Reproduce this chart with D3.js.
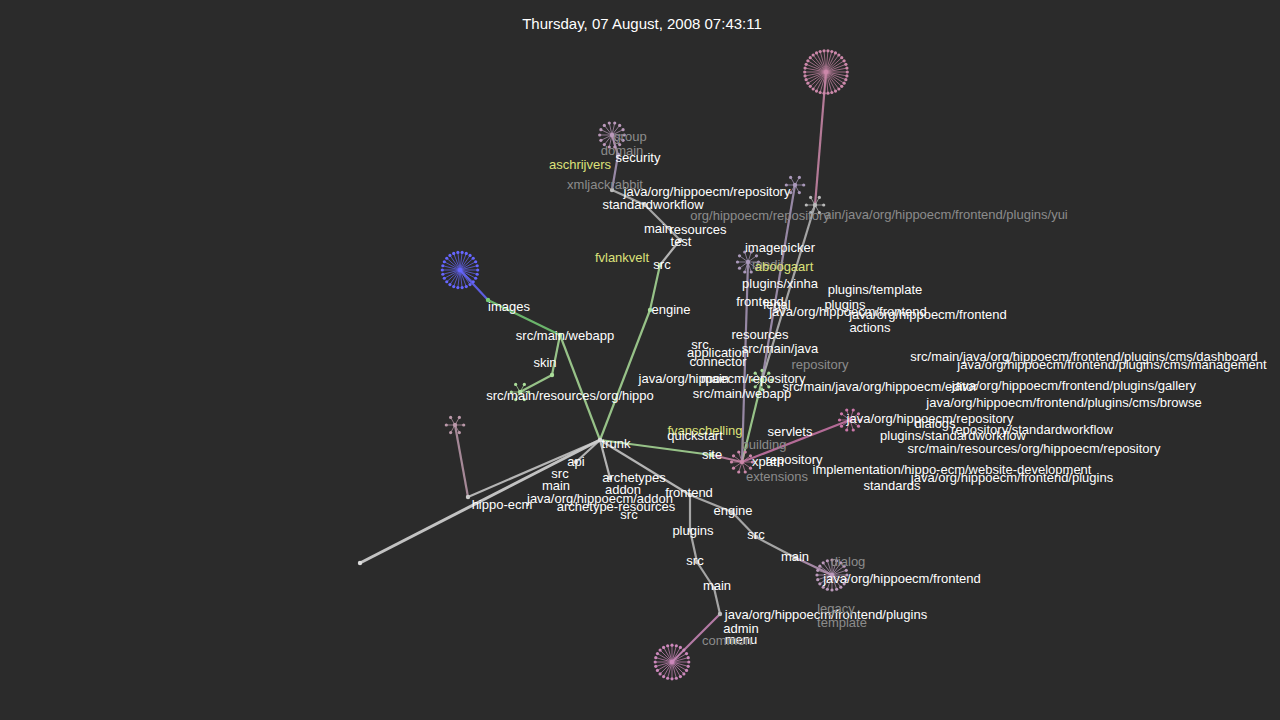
<!DOCTYPE html>
<html><head><meta charset="utf-8">
<script src="https://cdn.jsdelivr.net/npm/d3@7/dist/d3.min.js"></script>
<style>body{margin:0;background:#2b2b2b;overflow:hidden}svg{display:block}</style>
</head><body>
<script>
const title = "Thursday, 07 August, 2008 07:43:11";
const nodeIds   = ["root","tail","hippo","hippoUp","webapp","images","blue","engine","src1","test","sw","jrepo","security","grp","site","hub","hubR","up1","up2","top","front","plugins","src2","main2","jofp","menu","eng2","src3","main3","jof","skin","res","api","arch","imgp","yuiB"];
const nodeParent= [null,"root","root","hippo","root","webapp","images","root","engine","src1","test","sw","jrepo","security","root","site","hub","hub","up1","up2","root","front","plugins","src2","main2","jofp","front","eng2","src3","main3","webapp","skin","root","root","hub","up1"];
const nodeX = [600,360,468,455,560,488,460,650,660,680,645,612,618,612,712,742,850,762,815,826,690,690,697,714,720,672,732,756,796,832,552,520,576,610,748,795];
const nodeY = [440,563,497,425,335,300,270,310,265,240,205,190,155,135,455,462,420,380,205,72,495,530,562,588,614,662,512,537,558,575,375,392,462,478,262,185];
const nodeBurst=[0,0,0,6,0,0,26,0,0,0,0,0,0,14,0,10,10,8,6,34,0,0,0,0,0,24,0,0,0,20,0,6,0,0,10,6];
const nodeColor=["#ddd","#ddd","#ccc","#b9a","#ad9","#7c7","#66f","#ad9","#ad9","#ccc","#bbb","#bbb","#a9b","#b9b","#ad9","#c8a","#c7a","#ad9","#bbb","#c8a","#ccc","#bbb","#bbb","#bbb","#bbb","#c8b","#bbb","#bbb","#bbb","#b9b","#ad9","#ad9","#ccc","#ccc","#a9b","#a9b"];
const labelText=[
 "hippo-ecm","images","src/main/webapp","skin","src/main/resources/org/hippo","trunk","api","src","main","java/org/hippoecm/addon",
 "archetypes","addon","archetype-resources","src","engine","src","test","resources","main","standardworkflow",
 "java/org/hippoecm/repository","security","xmljackrabbit","group","domain","aschrijvers","fvlankvelt","site","building","repository",
 "frontend","plugins","src","main","java/org/hippoecm/frontend/plugins","admin","menu","common","engine","src",
 "main","dialog","java/org/hippoecm/frontend","legacy","template","imagepicker","medit","aboogaart","plugins/xinha","plugins/template",
 "frontend","legal","plugins","java/org/hippoecm/frontend","java/org/hippoecm/frontend","actions","repository","application","connector","fvanschelling",
 "quickstart","src/main/webapp","dialogs","plugins/standardworkflow","repository/standardworkflow","src/main/java/org/hippoecm/frontend/plugins/cms/dashboard","java/org/hippoecm/frontend/plugins/cms/management","java/org/hippoecm/frontend/plugins/gallery","java/org/hippoecm/frontend/plugins/cms/browse","src/main/resources/org/hippoecm/repository",
 "implementation/hippo-ecm/website-development","java/org/hippoecm/frontend/plugins","standards","extensions","xpath","servlets","java/org/hippoecm/repository","ain/java/org/hippoecm/frontend/plugins/yui","org/hippoecm/repository","src/main/java/org/hippoecm/editor",
 "src","main","java/org/hippoecm/repository","resources","src/main/java"];
const labelX=[
 502,509,565,545,570,616,576,560,556,600,
 634,623,616,629,671,662,681,698,658,653,
 707,638,605,630,622,580,622,712,764,794,
 689,693,695,717,826,741,741,727,733,756,
 795,848,902,836,842,780,768,784,780,875,
 760,777,845,848,928,870,820,718,718,705,
 695,742,935,953,1032,1084,1112,1074,1064,1034,
 952,1012,892,777,768,790,930,946,760,880,
 700,715,722,760,780];
const labelY=[
 506,308,337,364,397,445,463,475,487,500,
 479,491,508,516,311,266,243,231,230,206,
 193,159,186,138,152,166,259,456,446,461,
 494,532,562,587,616,630,641,642,512,536,
 558,563,580,610,624,249,266,268,285,291,
 303,306,306,313,316,329,366,354,363,432,
 437,395,425,437,431,358,366,387,404,450,
 471,479,487,478,463,433,420,216,217,388,
 346,380,380,336,350];
const labelTone=[
 "w","w","w","w","w","w","w","w","w","w",
 "w","w","w","w","w","w","w","w","w","w",
 "w","w","g","g","g","y","y","w","g","w",
 "w","w","w","w","w","w","w","g","w","w",
 "w","g","w","g","g","w","g","y","w","w",
 "w","w","w","w","w","w","g","w","w","y",
 "w","w","w","w","w","w","w","w","w","w",
 "w","w","w","g","w","w","w","g","g","w",
 "w","w","w","w","w"];
const toneColor={w:"#ffffff",g:"#8c8c8c",y:"#dde27a"};

const W=1280,H=720;
const x=d3.scaleLinear().domain([0,1280]).range([0,W]);
const y=d3.scaleLinear().domain([0,720]).range([0,H]);
const svg=d3.select("body").append("svg").attr("width",W).attr("height",H);
svg.append("rect").attr("width",W).attr("height",H).attr("fill","#2b2b2b");
const nodes=nodeIds.map((id,i)=>({id,parent:nodeParent[i],x:nodeX[i],y:nodeY[i],b:nodeBurst[i],c:nodeColor[i]}));
const byId=new Map(nodes.map(n=>[n.id,n]));
const edges=nodes.filter(n=>n.parent).map(n=>({s:byId.get(n.parent),t:n}));
svg.append("g").selectAll("line").data(edges).join("line")
 .attr("x1",d=>x(d.s.x)).attr("y1",d=>y(d.s.y)).attr("x2",d=>x(d.t.x)).attr("y2",d=>y(d.t.y))
 .attr("stroke",d=>d.t.c).attr("stroke-width",d=>d.t.id==="tail"?3:2.2).attr("stroke-opacity",0.85);
const bg=svg.append("g");
nodes.filter(n=>n.b>0).forEach(n=>{
  const r=6+n.b*0.45;
  d3.range(n.b).forEach(k=>{
    const a=k/n.b*2*Math.PI;
    bg.append("line").attr("x1",x(n.x)).attr("y1",y(n.y))
      .attr("x2",x(n.x+Math.cos(a)*r)).attr("y2",y(n.y+Math.sin(a)*r))
      .attr("stroke",n.c).attr("stroke-width",1).attr("stroke-opacity",0.7);
    bg.append("circle").attr("cx",x(n.x+Math.cos(a)*r)).attr("cy",y(n.y+Math.sin(a)*r)).attr("r",1.6).attr("fill",n.c);
  });
});
svg.append("g").selectAll("circle").data(nodes).join("circle")
 .attr("cx",d=>x(d.x)).attr("cy",d=>y(d.y)).attr("r",2.2).attr("fill",d=>d.c);
svg.append("g").selectAll("text").data(labelText.map((t,i)=>({t,x:labelX[i],y:labelY[i],c:toneColor[labelTone[i]]}))).join("text")
 .attr("x",d=>x(d.x)).attr("y",d=>y(d.y)).attr("text-anchor","middle").attr("dominant-baseline","middle")
 .attr("fill",d=>d.c).attr("font-family","Liberation Sans, Arial, sans-serif").attr("font-size",13)
 .text(d=>d.t);
svg.append("text").attr("x",642).attr("y",29).attr("text-anchor","middle").attr("fill","#fff")
 .attr("font-family","Liberation Sans, Arial, sans-serif").attr("font-size",15).text(title);
</script>
</body></html>
